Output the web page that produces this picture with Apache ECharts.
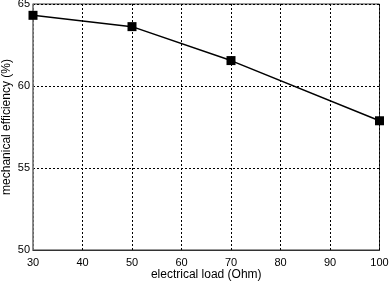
<!DOCTYPE html>
<html><head><meta charset="utf-8">
<script src="https://cdn.jsdelivr.net/npm/echarts@6/dist/echarts.min.js"></script>
<style>html,body{margin:0;padding:0;background:#fff}#c{width:389px;height:283px}</style>
</head><body><div id="c"></div>
<script>
const loads = [30, 50, 70, 100];
const efficiency = [64.31, 63.62, 61.55, 57.88];
const xName = 'electrical load (Ohm)';
const yName = 'mechanical efficiency (%)';

const chart = echarts.init(document.getElementById('c'), null, {renderer: 'canvas'});
const font = 'Liberation Sans, Arial, sans-serif';
chart.setOption({
  animation: false,
  backgroundColor: '#fff',
  grid: {left: 33, right: 9.5, top: 4, bottom: 33, show: true, borderColor: '#333', borderWidth: 1,
         containLabel: false, outerBoundsMode: 'none'},
  xAxis: {
    type: 'value', min: 30, max: 100, interval: 10,
    name: xName, nameLocation: 'middle', nameGap: 19, nameMoveOverlap: false,
    nameTextStyle: {fontFamily: font, fontSize: 12, color: '#000'},
    axisLine: {show: true, lineStyle: {color: '#333', width: 1}},
    axisTick: {show: false},
    axisLabel: {fontFamily: font, fontSize: 11, color: '#000', margin: 7},
    splitLine: {show: true, lineStyle: {color: '#000', type: [2, 2], width: 1}}
  },
  yAxis: {
    type: 'value', min: 50, max: 65, interval: 5,
    name: yName, nameLocation: 'middle', nameGap: 20, nameMoveOverlap: false,
    nameTextStyle: {fontFamily: font, fontSize: 12, color: '#000'},
    axisLine: {show: true, lineStyle: {color: '#888', width: 1.5}},
    axisTick: {show: false},
    axisLabel: {fontFamily: font, fontSize: 11, color: '#000', margin: 3},
    splitLine: {show: true, lineStyle: {color: '#000', type: [2, 2], width: 1}}
  },
  series: [{
    type: 'line',
    data: loads.map((x, i) => [x, efficiency[i]]),
    symbol: 'rect', symbolSize: 9,
    itemStyle: {color: '#000'},
    lineStyle: {color: '#000', width: 1.5},
    clip: false
  }]
});
</script></body></html>
